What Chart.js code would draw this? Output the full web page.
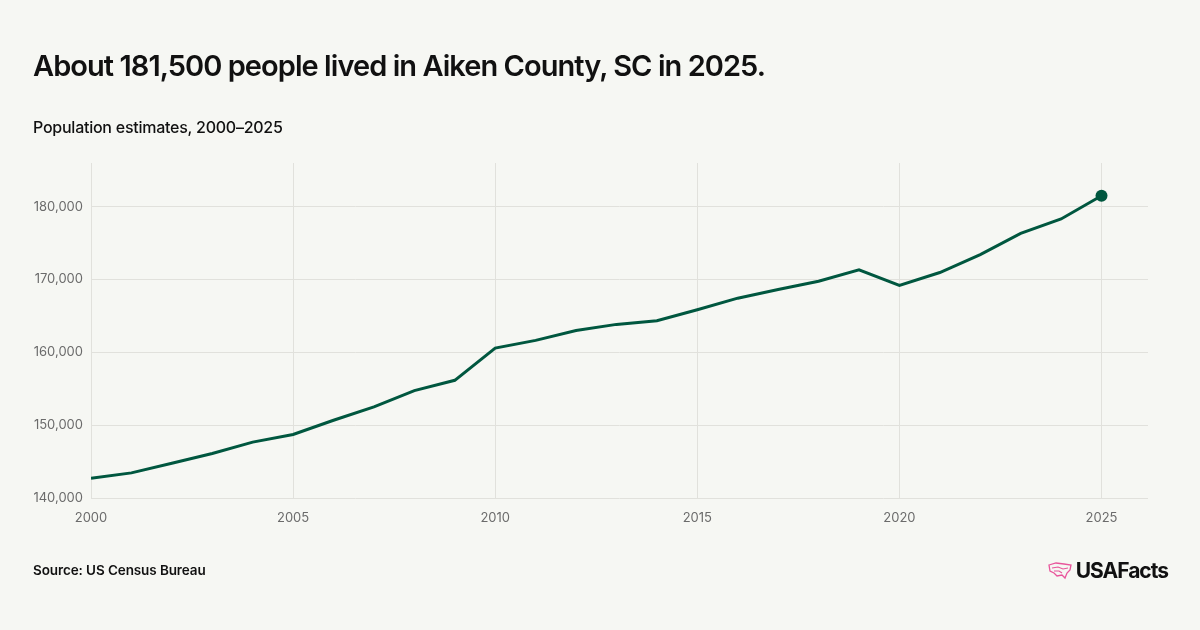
<!DOCTYPE html>
<html>
<head>
<meta charset="utf-8">
<script src="https://cdn.jsdelivr.net/npm/chart.js@4"></script>
<style>
  html, body { margin: 0; padding: 0; background: #f6f7f3; }
  #wrap { position: relative; width: 1200px; height: 630px; overflow: hidden; font-family: Inter, "Noto Sans", sans-serif; color: #111; }
  #title { position: absolute; left: 33px; top: 48px; font-size: 29px; font-weight: 600; letter-spacing: -0.95px; white-space: nowrap; }
  #subtitle { position: absolute; left: 33px; top: 117px; font-size: 16px; font-weight: 500; letter-spacing: -0.25px; white-space: nowrap; }
  #source { position: absolute; left: 33px; top: 562px; font-size: 13.5px; font-weight: 600; letter-spacing: -0.1px; white-space: nowrap; }
  #logo { position: absolute; right: 32px; top: 558px; display: flex; align-items: center; gap: 4px; font-size: 21px; font-weight: 700; letter-spacing: -1px; }
  #chart { position: absolute; left: 0; top: 0; }
</style>
</head>
<body>
<div id="wrap">
  <canvas id="chart" width="1200" height="630"></canvas>
  <div id="title">About 181,500 people lived in Aiken County, SC in 2025.</div>
  <div id="subtitle">Population estimates, 2000–2025</div>
  <div id="source">Source: US Census Bureau</div>
  <div id="logo">
    <svg width="24" height="18" viewBox="0 0 24 18">
      <path d="M1 3 L8 1 L16 2 L23 3 L22 8 L19 11 L17 16 L14 13 L9 14 L6 11 L2 9 Z" fill="none" stroke="#e8559b" stroke-width="1.3"/>
      <path d="M4 6 L10 5 L15 7 L20 6" fill="none" stroke="#e8559b" stroke-width="1.1"/>
      <path d="M6 9 L11 9 L14 11" fill="none" stroke="#e8559b" stroke-width="1.1"/>
    </svg>
    <span>USAFacts</span>
  </div>
</div>
<script>
var years = [2000, 2001, 2002, 2003, 2004, 2005, 2006, 2007, 2008, 2009, 2010, 2011, 2012,
             2013, 2014, 2015, 2016, 2017, 2018, 2019, 2020, 2021, 2022, 2023, 2024, 2025];
var population = [142700, 143450, 144780, 146120, 147670, 148720, 150680, 152510, 154750, 156160,
                  160590, 161640, 163010, 163840, 164340, 165850, 167440, 168630, 169770, 171330,
                  169180, 170960, 173420, 176340, 178310, 181500];
var xTicks = [2000, 2005, 2010, 2015, 2020, 2025];
var yTicks = [140000, 150000, 160000, 170000, 180000];

var lineColor = '#00573f';
var gridColor = '#e1e1dc';
var tickFont = { family: 'Inter, "Noto Sans", sans-serif', size: 13 };

var points = years.map(function (y, i) { return { x: y, y: population[i] }; });
var last = points.length - 1;

var ctx = document.getElementById('chart').getContext('2d');
var mychart = new Chart(ctx, {
    type: 'line',
    data: {
        datasets: [{
            label: 'Population',
            data: points,
            borderColor: lineColor,
            backgroundColor: lineColor,
            borderWidth: 3,
            tension: 0,
            pointRadius: function (c) { return c.dataIndex === last ? 6 : 0; },
            pointHoverRadius: 0,
            pointBorderWidth: 0
        }]
    },
    options: {
        responsive: false,
        animation: false,
        layout: { padding: { top: 163, right: 52, bottom: 100, left: 0 } },
        scales: {
            x: {
                type: 'linear',
                min: 2000,
                max: 2026.15,
                afterBuildTicks: function (s) { s.ticks = xTicks.map(function (v) { return { value: v }; }); },
                afterFit: function (s) { s.height = 32; },
                border: { display: false },
                grid: { color: gridColor, lineWidth: 1, drawTicks: false },
                ticks: {
                    color: '#6b6b6b',
                    font: tickFont,
                    padding: 12,
                    maxRotation: 0,
                    callback: function (v) { return String(v); }
                }
            },
            y: {
                min: 140000,
                max: 186000,
                afterBuildTicks: function (s) { s.ticks = yTicks.map(function (v) { return { value: v }; }); },
                afterFit: function (s) { s.width = 91; },
                border: { display: false },
                grid: { color: gridColor, lineWidth: 1, drawTicks: false },
                ticks: {
                    color: '#6b6b6b',
                    font: tickFont,
                    padding: 8,
                    callback: function (v) { return v.toLocaleString('en-US'); }
                }
            }
        },
        plugins: {
            legend: { display: false },
            tooltip: { enabled: false }
        }
    }
});
</script>
</body>
</html>
